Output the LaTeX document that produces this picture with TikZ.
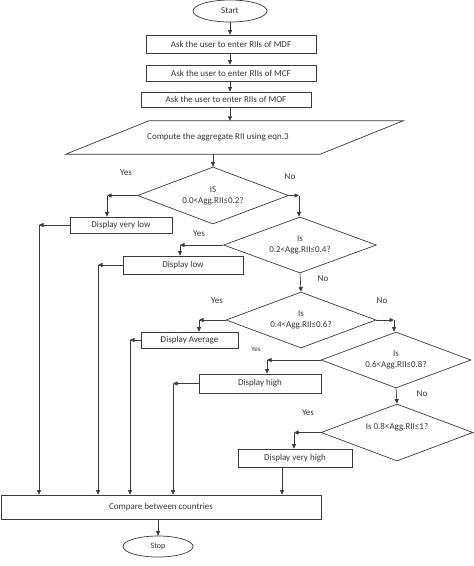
\documentclass[tikz,border=0pt]{standalone}
\usepackage{fontspec}
\setmainfont{Carlito}
\usetikzlibrary{shapes.geometric,arrows.meta,calc}
\definecolor{ln}{HTML}{3A3A3A}
\definecolor{tx}{HTML}{333333}
\begin{document}
\begin{tikzpicture}[x=1pt,y=-1pt,
  every node/.style={text=tx,font=\fontsize{9}{11}\selectfont},
  box/.style={draw=ln,line width=0.7pt,rectangle,inner sep=0pt},
  term/.style={draw=ln,line width=0.7pt,ellipse,inner sep=0pt},
  dec/.style={draw=ln,line width=0.7pt,diamond,aspect=2.65,inner sep=0pt,align=center},
  lbl/.style={inner sep=0pt},
  arr/.style={draw=ln,line width=0.7pt,-{Triangle[length=4.5pt,width=4pt]}},
  ln/.style={draw=ln,line width=0.7pt}]
\useasboundingbox (0,0) rectangle (474,566);

\node[term,minimum width=74pt,minimum height=22pt] (start) at (230,11) {Start};
\node[box,minimum width=170pt,minimum height=18pt] (b1) at (231,44) {Ask the user to enter RIIs of MDF};
\node[box,minimum width=170pt,minimum height=16pt] (b2) at (231,73) {Ask the user to enter RIIs of MCF};
\node[box,minimum width=170pt,minimum height=15pt] (b3) at (226,99.5) {Ask the user to enter RIIs of MOF};

\node[rectangle,inner sep=0pt,minimum width=254pt,minimum height=33pt] (para) at (234.5,137.5) {};
\draw[ln] ([xshift=41.5pt]para.north west) -- ([xshift=41.5pt]para.north east)
  -- ([xshift=-41.5pt]para.south east) -- ([xshift=-41.5pt]para.south west) -- cycle;
\node (paratxt) at (218,137) {Compute the aggregate RII using eqn.3};

\node[dec,minimum width=151pt,minimum height=57pt] (d1) at (213,195.5) {IS\\0.0<Agg.RII≤0.2?};
\node[dec,minimum width=153pt,minimum height=56pt] (d2) at (300,245) {Is\\0.2<Agg.RII≤0.4?};
\node[dec,minimum width=150pt,minimum height=56pt] (d3) at (301,320) {Is\\0.4<Agg.RII≤0.6?};
\node[dec,minimum width=150pt,minimum height=56pt] (d4) at (396,360) {Is\\0.6<Agg.RII≤0.8?};
\node[dec,minimum width=152pt,minimum height=57pt] (d5) at (397,432.5) {};
\node (d5t) at (397,427) {Is 0.8<Agg.RII≤1?};

\node[box,minimum width=102pt,minimum height=16pt] (vlow) at (121,225) {Display very low};
\node[box,minimum width=120pt,minimum height=18pt] (low) at (183,265) {Display low};
\node[box,minimum width=97pt,minimum height=16pt] (avg) at (189.5,340) {Display Average};
\node[box,minimum width=122pt,minimum height=19pt] (high) at (260,383.5) {Display high};
\node[box,minimum width=114pt,minimum height=18pt] (vhigh) at (295,458) {Display very high};
\node[box,minimum width=320pt,minimum height=24pt] (cmp) at (161,507) {Compare between countries};
\node[term,minimum width=70pt,minimum height=21pt,font=\fontsize{8}{10}\selectfont] (stop) at (158,546.5) {Stop};

% corners
\coordinate (c1y) at (107,195.5);
\coordinate (c1n) at (299,195.5);
\coordinate (c2y) at (180,245);
\coordinate (c3y) at (199,320);
\coordinate (c3n) at (394,320);
\coordinate (c4y) at (267,360);
\coordinate (c5y) at (294,432.5);
\coordinate (e1) at (39,225);
\coordinate (e2) at (98,265);
\coordinate (e3) at (130,340);
\coordinate (e4) at (173,383.5);
\coordinate (e5) at (282,467);

% main chain
\draw[arr] (start.south -| start) -- (b1.north -| start);
\draw[arr] (b1.south -| start) -- (b2.north -| start);
\draw[arr] (b2.south -| start) -- (b3.north -| start);
\draw[arr] (b3.south -| start) -- (para.north -| start);
\draw[arr] (para.south -| d1.north) -- (d1.north);

% decision 1
\draw[arr] (d1.west) -- (c1y);
\draw[arr] (c1y) -- (vlow.north -| c1y);
\draw[arr] (d1.east) -- (c1n);
\draw[arr] (c1n) -- (d2.north -| c1n);
% decision 2
\draw[arr] (d2.west) -- (c2y);
\draw[arr] (c2y) -- (low.north -| c2y);
\draw[arr] (d2.south) -- (d3.north);
% decision 3
\draw[arr] (d3.west) -- (c3y);
\draw[arr] (c3y) -- (avg.north -| c3y);
\draw[arr] (d3.east) -- (c3n);
\draw[arr] (c3n) -- (d4.north -| c3n);
% decision 4
\draw[arr] (d4.west) -- (c4y);
\draw[arr] (c4y) -- (high.north -| c4y);
\draw[arr] (d4.south) -- (d5.north);
% decision 5
\draw[arr] (d5.west) -- (c5y);
\draw[arr] (c5y) -- (vhigh.north -| c5y);

% outputs to compare
\draw[arr] (vlow.west) -- (e1);
\draw[arr] (e1) -- (cmp.north -| e1);
\draw[arr] (low.west) -- (e2);
\draw[arr] (e2) -- (cmp.north -| e2);
\draw[arr] (avg.west) -- (e3);
\draw[arr] (e3) -- (cmp.north -| e3);
\draw[arr] (high.west) -- (e4);
\draw[arr] (e4) -- (cmp.north -| e4);
\draw[arr] (e5) -- (cmp.north -| e5);
\draw[arr] (cmp.south -| stop) -- (stop.north);

% labels
\node[lbl] (y1) at (126,173) {Yes};
\node[lbl] (n1) at (290,177) {No};
\node[lbl] (y2) at (199,234) {Yes};
\node[lbl] (n2) at (323,279) {No};
\node[lbl] (y3) at (217,301) {Yes};
\node[lbl] (n3) at (382,301) {No};
\node[lbl,font=\fontsize{7}{8}\selectfont] (y4) at (256,349) {Yes};
\node[lbl] (n4) at (422,394) {No};
\node[lbl] (y5) at (308,413) {Yes};
\end{tikzpicture}
\end{document}
